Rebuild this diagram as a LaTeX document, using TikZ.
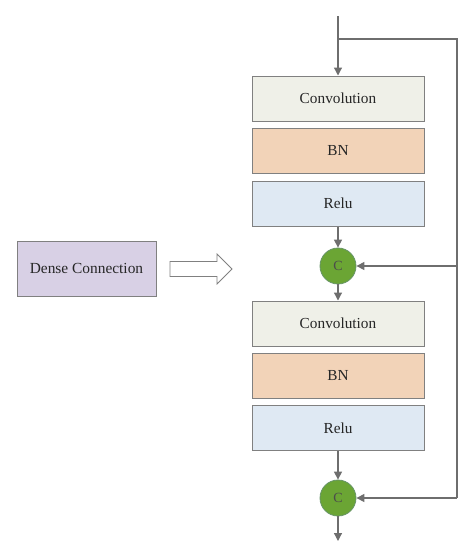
\documentclass[tikz,border=0pt]{standalone}
\usepackage{fontspec}
\setmainfont{Liberation Serif}
\usetikzlibrary{arrows.meta}
\definecolor{convc}{HTML}{EFF0E8}
\definecolor{bnc}{HTML}{F2D3B8}
\definecolor{reluc}{HTML}{DFE9F3}
\definecolor{densec}{HTML}{D8D0E5}
\definecolor{circc}{HTML}{6BA534}
\definecolor{bordc}{HTML}{808080}
\definecolor{linec}{HTML}{6E6E6E}
\tikzset{
  x=1pt,y=-1pt,
  layer/.style={draw=bordc,line width=1pt,minimum width=172pt,minimum height=45pt,inner sep=0pt,font=\fontsize{15.3}{17}\selectfont,text=black!85},
  catnode/.style={circle,draw=green!30!black!60,line width=0.8pt,fill=circc,minimum size=36pt,inner sep=0pt,font=\fontsize{14}{16}\selectfont,text=black!70},
  conn/.style={draw=linec,line width=1.2pt,-{Triangle[length=8pt,width=8pt]}},
  plain/.style={draw=linec,line width=1.2pt},
}
\begin{document}
\begin{tikzpicture}
\useasboundingbox (0,0) rectangle (474,558);
\node[layer,fill=convc] (conv1) at (338,98.5) {Convolution};
\node[layer,fill=bnc] (bn1) at (338,151) {BN};
\node[layer,fill=reluc] (relu1) at (338,203.5) {Relu};
\node[catnode] (c1) at (338,266) {C};
\node[layer,fill=convc] (conv2) at (338,323.5) {Convolution};
\node[layer,fill=bnc] (bn2) at (338,376) {BN};
\node[layer,fill=reluc] (relu2) at (338,428) {Relu};
\node[catnode] (c2) at (338,498) {C};
\node[draw=bordc,line width=1pt,fill=densec,minimum width=139pt,minimum height=55pt,inner sep=0pt,font=\fontsize{15.4}{17}\selectfont,text=black!85] (dense) at (86.5,268.5) {Dense Connection};
\draw[draw=bordc,line width=0.8pt,fill=white,line join=miter]
  (170,261.5) -- (217,261.5) -- (217,254) -- (232,269) -- (217,284) -- (217,276.5) -- (170,276.5) -- cycle;
\coordinate (top) at (338,16);
\coordinate (split) at (338,39);
\coordinate (rt) at (457,39);
\coordinate (out) at (338,541);
\draw[plain] (top) -- (split);
\draw[conn] (split) -- (conv1.north);
\draw[plain] (split) -- (rt) -- (rt |- c2);
\draw[conn] (rt |- c1) -- (c1.east);
\draw[conn] (rt |- c2) -- (c2.east);
\draw[conn] (relu1.south) -- (c1.north);
\draw[conn] (c1.south) -- (conv2.north);
\draw[conn] (relu2.south) -- (c2.north);
\draw[conn] (c2.south) -- (out);
\end{tikzpicture}
\end{document}
